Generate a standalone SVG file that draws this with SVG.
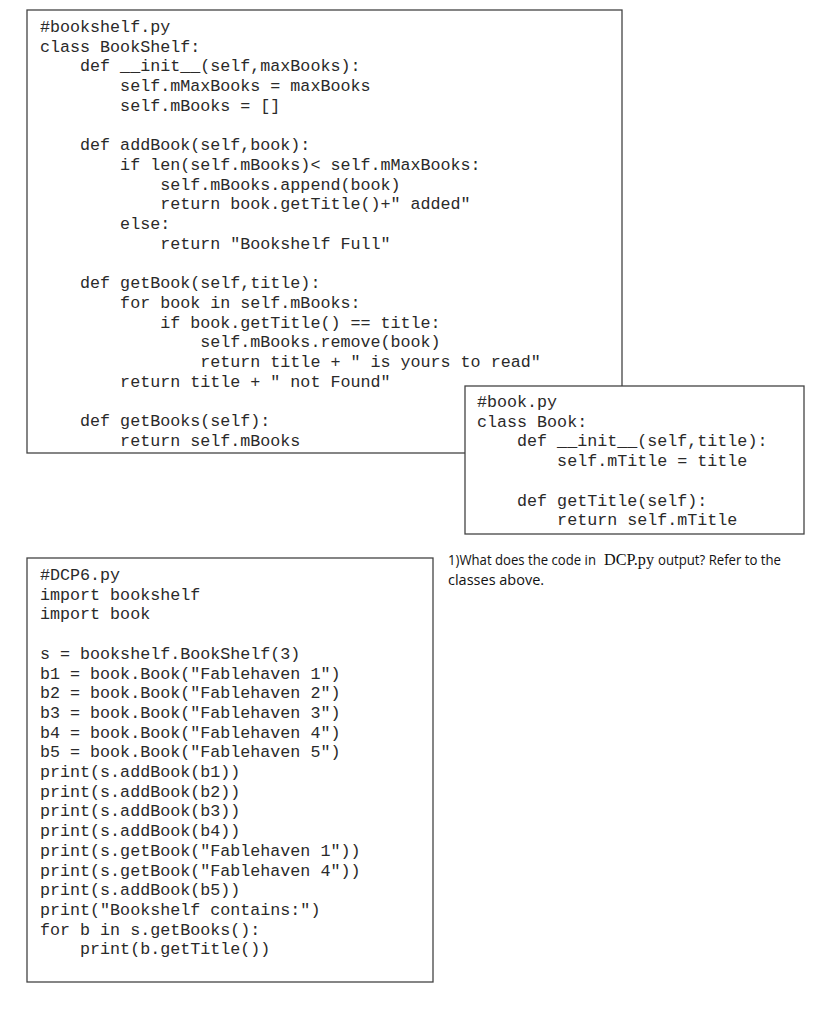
<svg xmlns="http://www.w3.org/2000/svg" width="836" height="1024" viewBox="0 0 836 1024">
<style>
.box{fill:#fff;stroke:#444;stroke-width:1.3}
.code{font-family:"Liberation Mono","Courier New",monospace;font-size:16.7px;fill:#2a2a2a;white-space:pre}
.q{font-family:"Open Sans","Liberation Sans",sans-serif;font-size:14.5px;fill:#111}
.qs{font-family:"Liberation Serif",serif;font-size:16.5px;fill:#111}
</style>
<rect width="836" height="1024" fill="#fff"/>
<g id="bookshelf">
<rect class="box" x="27" y="10" width="595" height="443"/>
<text class="code" xml:space="preserve">
<tspan x="40" y="32">#bookshelf.py</tspan>
<tspan x="40" y="51.7">class BookShelf:</tspan>
<tspan x="40" y="71.4">    def __init__(self,maxBooks):</tspan>
<tspan x="40" y="91.1">        self.mMaxBooks = maxBooks</tspan>
<tspan x="40" y="110.8">        self.mBooks = []</tspan>
<tspan x="40" y="150.2">    def addBook(self,book):</tspan>
<tspan x="40" y="169.9">        if len(self.mBooks)&lt; self.mMaxBooks:</tspan>
<tspan x="40" y="189.6">            self.mBooks.append(book)</tspan>
<tspan x="40" y="209.3">            return book.getTitle()+" added"</tspan>
<tspan x="40" y="229">        else:</tspan>
<tspan x="40" y="248.7">            return "Bookshelf Full"</tspan>
<tspan x="40" y="288.1">    def getBook(self,title):</tspan>
<tspan x="40" y="307.8">        for book in self.mBooks:</tspan>
<tspan x="40" y="327.5">            if book.getTitle() == title:</tspan>
<tspan x="40" y="347.2">                self.mBooks.remove(book)</tspan>
<tspan x="40" y="366.9">                return title + " is yours to read"</tspan>
<tspan x="40" y="386.6">        return title + " not Found"</tspan>
<tspan x="40" y="426">    def getBooks(self):</tspan>
<tspan x="40" y="445.7">        return self.mBooks</tspan>
</text>
</g>
<g id="book">
<rect class="box" x="465" y="386" width="339" height="148"/>
<text class="code" xml:space="preserve">
<tspan x="477" y="407">#book.py</tspan>
<tspan x="477" y="426.7">class Book:</tspan>
<tspan x="477" y="446.4">    def __init__(self,title):</tspan>
<tspan x="477" y="466.1">        self.mTitle = title</tspan>
<tspan x="477" y="505.5">    def getTitle(self):</tspan>
<tspan x="477" y="525.2">        return self.mTitle</tspan>
</text>
</g>
<g id="dcp6">
<rect class="box" x="27" y="558" width="406" height="424"/>
<text class="code" xml:space="preserve">
<tspan x="40" y="580">#DCP6.py</tspan>
<tspan x="40" y="599.7">import bookshelf</tspan>
<tspan x="40" y="619.4">import book</tspan>
<tspan x="40" y="658.8">s = bookshelf.BookShelf(3)</tspan>
<tspan x="40" y="678.5">b1 = book.Book("Fablehaven 1")</tspan>
<tspan x="40" y="698.2">b2 = book.Book("Fablehaven 2")</tspan>
<tspan x="40" y="717.9">b3 = book.Book("Fablehaven 3")</tspan>
<tspan x="40" y="737.6">b4 = book.Book("Fablehaven 4")</tspan>
<tspan x="40" y="757.3">b5 = book.Book("Fablehaven 5")</tspan>
<tspan x="40" y="777">print(s.addBook(b1))</tspan>
<tspan x="40" y="796.7">print(s.addBook(b2))</tspan>
<tspan x="40" y="816.4">print(s.addBook(b3))</tspan>
<tspan x="40" y="836.1">print(s.addBook(b4))</tspan>
<tspan x="40" y="855.8">print(s.getBook("Fablehaven 1"))</tspan>
<tspan x="40" y="875.5">print(s.getBook("Fablehaven 4"))</tspan>
<tspan x="40" y="895.2">print(s.addBook(b5))</tspan>
<tspan x="40" y="914.9">print("Bookshelf contains:")</tspan>
<tspan x="40" y="934.6">for b in s.getBooks():</tspan>
<tspan x="40" y="954.3">    print(b.getTitle())</tspan>
</text>
</g>
<g id="question">
<text class="q" x="448" y="565" textLength="148" lengthAdjust="spacingAndGlyphs">1)What does the code in</text>
<text class="qs" x="604" y="565" textLength="50" lengthAdjust="spacingAndGlyphs">DCP.py</text>
<text class="q" x="658" y="565" textLength="123" lengthAdjust="spacingAndGlyphs">output? Refer to the</text>
<text class="q" x="448" y="585">classes above.</text>
</g>
<g id="connectors"/>
</svg>
